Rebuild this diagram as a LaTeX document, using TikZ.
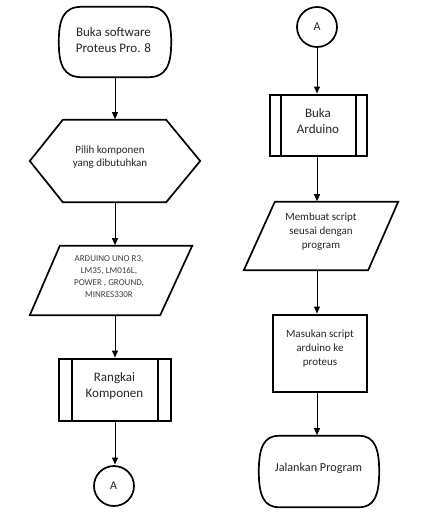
\documentclass[tikz,border=0pt]{standalone}
\usepackage{fontspec}
\setmainfont{Carlito}
\usetikzlibrary{arrows.meta}
\newcommand\drawterm[2]{% node name, flat inset
  \draw[outline] ([xshift=#2]#1.north west) .. controls ([xshift=5pt]#1.north west) and ([yshift=-12pt]#1.north west) .. (#1.west)
    .. controls ([yshift=12pt]#1.south west) and ([xshift=5pt]#1.south west) .. ([xshift=#2]#1.south west)
    -- ([xshift=-#2]#1.south east) .. controls ([xshift=-5pt]#1.south east) and ([yshift=12pt]#1.south east) .. (#1.east)
    .. controls ([yshift=-12pt]#1.north east) and ([xshift=-5pt]#1.north east) .. ([xshift=-#2]#1.north east) -- cycle;}
\begin{document}
\begin{tikzpicture}[x=1pt,y=-1pt,
  outline/.style={draw=black, line width=1.7pt, line join=miter},
  frame/.style={draw=black, line width=1.7pt, inner sep=0pt},
  ghost/.style={inner sep=0pt},
  lbl/.style={align=center, inner sep=0pt, text=black!85},
  big/.style={font=\fontsize{13}{16}\selectfont},
  mid/.style={font=\fontsize{11}{14}\selectfont},
  small/.style={font=\fontsize{9}{12}\selectfont, text=black!75},
  flow/.style={-{Triangle[length=7pt,width=6pt]}, line width=0.9pt, shorten >=0.6pt}]
\useasboundingbox[fill=white] (0,0) rectangle (443,512);

% ---------- left column ----------
\node[ghost, minimum width=112pt, minimum height=70pt] (t1) at (115,42) {};
\drawterm{t1}{23pt}
\node[lbl,big] (t1t) at (113.5,40) {Buka software\\Proteus Pro. 8};

\node[ghost, minimum width=170pt, minimum height=82pt] (hx) at (115,161) {};
\draw[outline] (hx.west) -- ([xshift=33pt]hx.north west) -- ([xshift=-34pt]hx.north east)
  -- (hx.east) -- ([xshift=-34pt]hx.south east) -- ([xshift=33pt]hx.south west) -- cycle;
\node[lbl,font=\fontsize{11}{13}\selectfont] (hxt) at (110,157.5) {Pilih komponen\\yang dibutuhkan};

\node[ghost, minimum width=162pt, minimum height=69pt] (p1) at (111,280.5) {};
\draw[outline] ([xshift=30pt]p1.north west) -- (p1.north east) -- ([xshift=-32pt]p1.south east)
  -- (p1.south west) -- cycle;
\node[lbl,small] (p1t) at (109,277) {ARDUINO UNO R3,\\LM35, LM016L,\\POWER\ , GROUND,\\MINRES330R};

\node[frame, minimum width=112pt, minimum height=62pt] (s1) at (115,390) {};
\draw[outline] ([xshift=14pt]s1.north west) -- ([xshift=14pt]s1.south west);
\draw[outline] ([xshift=-14pt]s1.north east) -- ([xshift=-14pt]s1.south east);
\node[lbl,big] (s1t) at (114.5,386) {Rangkai\\Komponen};

\node[frame, circle, minimum size=40pt] (a1) at (114,486) {};
\node[lbl,font=\fontsize{12}{14}\selectfont] (a1t) at (113.5,486) {A};

\draw[flow] (t1.south) -- (t1.south |- hx.north);
\draw[flow] (hx.south) -- (hx.south |- p1.north);
\draw[flow] (s1.north |- p1.south) -- (s1.north);
\draw[flow] (s1.south) -- (s1.south |- a1.north);

% ---------- right column ----------
\node[frame, circle, minimum size=40pt] (a2) at (317,27) {};
\node[lbl,font=\fontsize{12}{14}\selectfont] (a2t) at (317,27) {A};

\node[frame, minimum width=97pt, minimum height=61pt] (s2) at (318.5,125.5) {};
\draw[outline] ([xshift=12pt]s2.north west) -- ([xshift=12pt]s2.south west);
\draw[outline] ([xshift=-12pt]s2.north east) -- ([xshift=-12pt]s2.south east);
\node[lbl,big] (s2t) at (318,121) {Buka\\Arduino};

\node[ghost, minimum width=154pt, minimum height=68pt] (p2) at (321,236) {};
\draw[outline] ([xshift=31pt]p2.north west) -- (p2.north east) -- ([xshift=-30pt]p2.south east)
  -- (p2.south west) -- cycle;
\node[lbl,mid] (p2t) at (321,232) {Membuat script\\seusai dengan\\program};

\node[frame, minimum width=94pt, minimum height=77pt] (r1) at (320,353.5) {};
\node[lbl,mid] (r1t) at (320,349) {Masukan script\\arduino ke\\proteus};

\node[ghost, minimum width=120pt, minimum height=71pt] (t2) at (319,471.5) {};
\drawterm{t2}{20pt}
\node[lbl,font=\fontsize{12.2}{15}\selectfont] (t2t) at (318.5,468) {Jalankan Program};

\draw[flow] (a2.south) -- (a2.south |- s2.north);
\draw[flow] (a2.south |- s2.south) -- (a2.south |- p2.north);
\draw[flow] (a2.south |- p2.south) -- (a2.south |- r1.north);
\draw[flow] (a2.south |- r1.south) -- (a2.south |- t2.north);
\end{tikzpicture}
\end{document}
